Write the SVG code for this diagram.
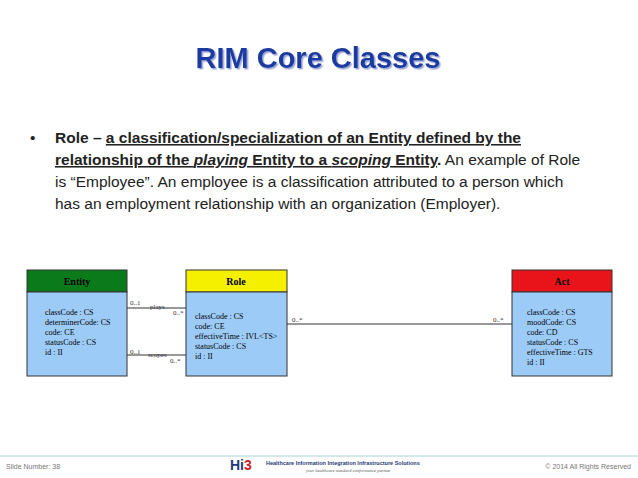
<svg xmlns="http://www.w3.org/2000/svg" width="638" height="478" viewBox="0 0 638 478" xml:space="preserve">
<defs><filter id="sh" x="-10%" y="-30%" width="120%" height="160%"><feDropShadow dx="1.5" dy="1.5" stdDeviation="0.6" flood-color="#9aa8d8"/></filter></defs>
<style>
.h{font-family:"Liberation Serif",serif;font-size:10px;font-weight:bold;text-anchor:middle}
.a{font-family:"Liberation Serif",serif;font-size:8px;fill:#000}
.m{font-family:"Liberation Serif",serif;font-size:7px;fill:#333}
.b{stroke:#333;stroke-width:1}
.t{font-family:"Liberation Sans",Arial,sans-serif;font-size:15.5px;fill:#222}
.f{font-family:"Liberation Sans",Arial,sans-serif;font-size:7px;fill:#777}
</style>
<rect width="638" height="478" fill="#fff"/>
<text x="318" y="68" font-family="Liberation Sans,Arial,sans-serif" font-size="29" font-weight="bold" fill="#1f3aa0" text-anchor="middle" filter="url(#sh)">RIM Core Classes</text>
<text class="t" x="30" y="143">•</text>
<text class="t" x="55" y="143"><tspan font-weight="bold">Role – </tspan><tspan font-weight="bold" text-decoration="underline">a classification/specialization of an Entity defined by the</tspan></text>
<text class="t" x="55" y="165"><tspan font-weight="bold" text-decoration="underline">relationship of the <tspan font-style="italic">playing</tspan> Entity to a <tspan font-style="italic">scoping</tspan> Entity</tspan><tspan font-weight="bold">.</tspan>  An example of Role</text>
<text class="t" x="55" y="187">is “Employee”.   An employee is a classification attributed to a person which</text>
<text class="t" x="55" y="209">has an employment relationship with an organization (Employer).</text>
<g id="connectors" stroke="#333" stroke-width="1">
<line x1="127" y1="308" x2="186" y2="308"/>
<line x1="127" y1="355" x2="186" y2="355"/>
<line x1="287" y1="324" x2="512" y2="324"/>
</g>
<g id="labels">
<text class="m" x="130" y="305">0..1</text><text class="m" x="150" y="309">plays</text><text class="m" x="173" y="315">0..*</text>
<text class="m" x="130" y="354">0..1</text><text class="m" x="148" y="357">scopes</text><text class="m" x="170" y="363">0..*</text>
<text class="m" x="292" y="322">0..*</text><text class="m" x="493" y="322">0..*</text>
</g>
<g id="entity">
<rect x="27" y="270" width="100" height="22" fill="#0a7a1a" class="b"/>
<rect x="27" y="292" width="100" height="84" fill="#9dcbf8" class="b"/>
<text class="h" x="77" y="285">Entity</text>
<text class="a" x="45" y="315">classCode : CS</text><text class="a" x="45" y="325">determinerCode: CS</text><text class="a" x="45" y="335">code: CE</text><text class="a" x="45" y="345">statusCode : CS</text><text class="a" x="45" y="355">id : II</text>
</g>
<g id="role">
<rect x="186" y="270" width="101" height="22" fill="#f5ef00" class="b"/>
<rect x="186" y="292" width="101" height="84" fill="#9dcbf8" class="b"/>
<text class="h" x="236" y="285">Role</text>
<text class="a" x="195" y="319">classCode : CS</text><text class="a" x="195" y="329">code: CE</text><text class="a" x="195" y="339">effectiveTime : IVL&lt;TS&gt;</text><text class="a" x="195" y="349">statusCode : CS</text><text class="a" x="195" y="359">id : II</text>
</g>
<g id="act">
<rect x="512" y="270" width="100" height="22" fill="#e8141a" class="b"/>
<rect x="512" y="292" width="100" height="84" fill="#9dcbf8" class="b"/>
<text class="h" x="562" y="285">Act</text>
<text class="a" x="527" y="315">classCode : CS</text><text class="a" x="527" y="325">moodCode: CS</text><text class="a" x="527" y="335">code: CD</text><text class="a" x="527" y="345">statusCode : CS</text><text class="a" x="527" y="355">effectiveTime : GTS</text><text class="a" x="527" y="365">id : II</text>
</g>
<line x1="0" y1="456" x2="638" y2="456" stroke="#a8d4d4" stroke-width="1"/>
<text class="f" x="6" y="469">Slide Number: 38</text>
<text x="230" y="470" font-family="Liberation Sans,Arial,sans-serif" font-size="14" font-weight="bold" fill="#1f3a7a">Hi<tspan fill="#d02020">3</tspan></text>
<text x="266" y="465" font-family="Liberation Sans,Arial,sans-serif" font-size="5.5" font-weight="bold" fill="#1f3a7a">Healthcare Information Integration Infrastructure Solutions</text>
<text x="306" y="472" font-family="Liberation Serif,serif" font-size="4.5" font-style="italic" fill="#555">your healthcare standard conformance partner</text>
<text class="f" x="631" y="469" text-anchor="end">© 2014 All Rights Reserved</text>
</svg>
